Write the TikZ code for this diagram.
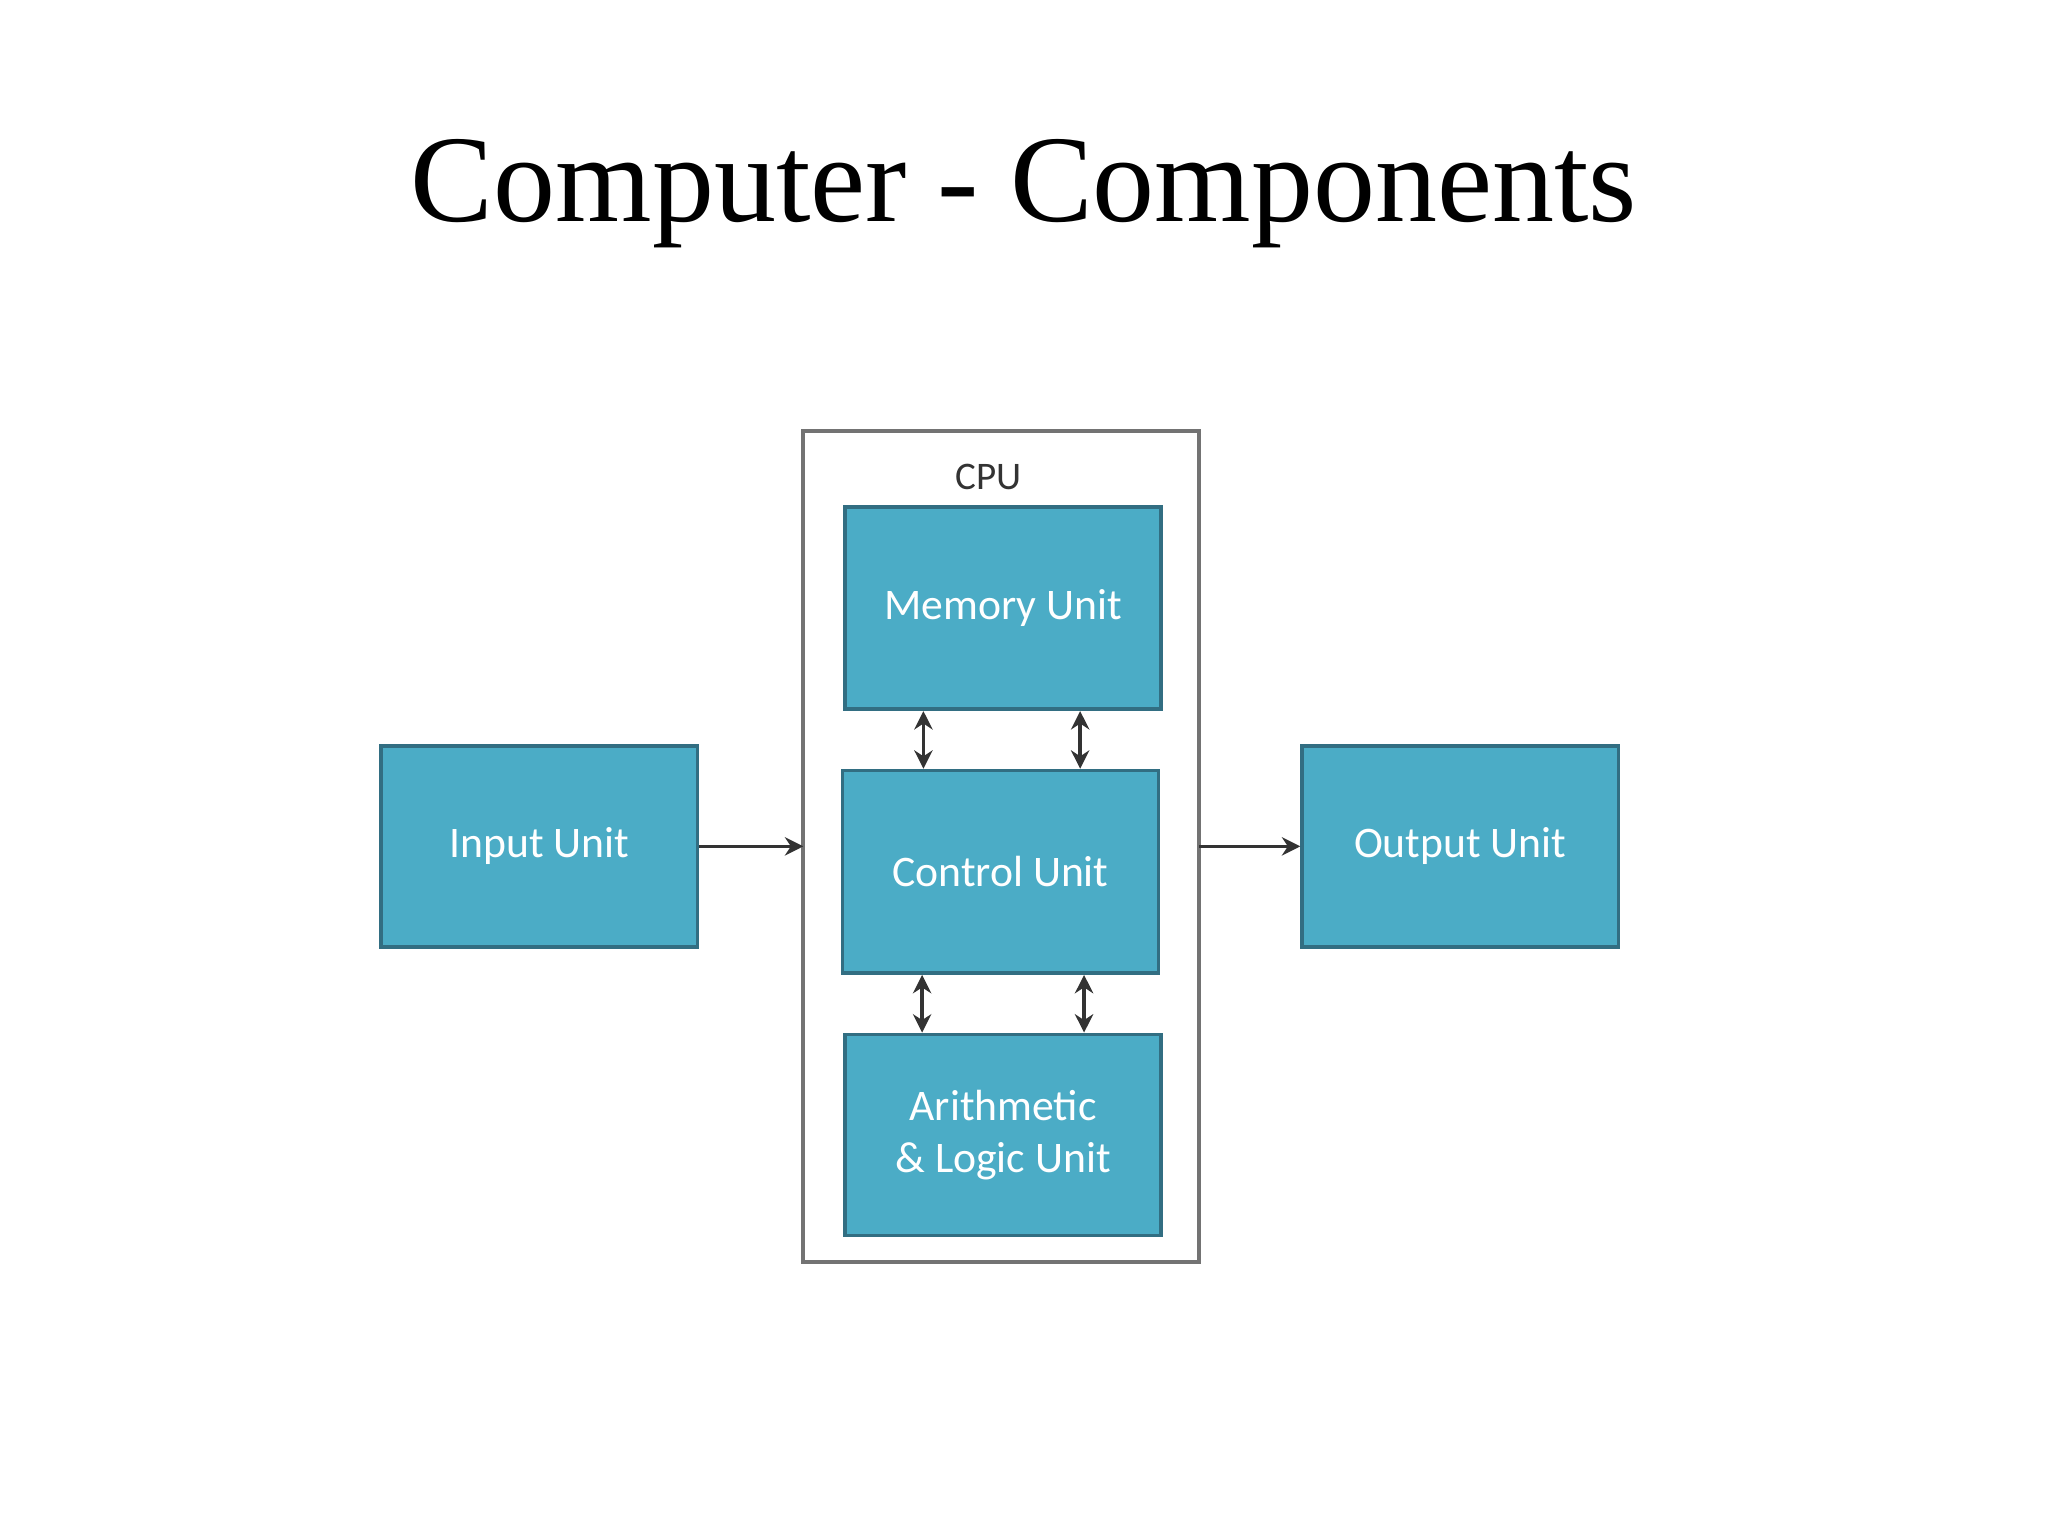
\documentclass[tikz,border=0pt]{standalone}
\usepackage{fontspec}
\setmainfont{Liberation Serif}
\newfontfamily\calfont{Carlito}
\usetikzlibrary{arrows.meta}
\begin{document}
\begin{tikzpicture}[x=0.01cm,y=-0.01cm,
  unit/.style={draw={rgb,255:red,50;green,110;blue,130}, line width=0.8pt, fill={rgb,255:red,75;green,172;blue,198}, text=white, font=\calfont\fontsize{9.5}{11.5}\selectfont, align=center, inner sep=0pt},
  arr/.style={-{Stealth[length=4pt,width=4pt]}, line width=0.8pt, black!80},
  darr/.style={{Stealth[length=4pt,width=4pt]}-{Stealth[length=4pt,width=4pt]}, line width=0.8pt, black!80}]
\useasboundingbox (0,0) rectangle (1568,1176);
\node (title) at (784,148) {\fontsize{27}{30}\selectfont Computer - Components};
\path[draw=black!55, line width=0.9pt] (615,330) rectangle (918,966);
\coordinate (cpuL) at (615,648);
\coordinate (cpuR) at (918,648);
\node[font=\calfont\fontsize{8.5}{10}\selectfont, text=black!80] (cpulabel) at (757,365) {CPU};
\node[unit, minimum width=2.42cm, minimum height=1.55cm] (mem) at (768,465.5) {Memory Unit};
\node[unit, minimum width=2.42cm, minimum height=1.55cm] (ctl) at (766,667.5) {Control Unit};
\node[unit, minimum width=2.42cm, minimum height=1.54cm] (alu) at (768,869) {Arithmetic\\\& Logic Unit};
\node[unit, minimum width=2.42cm, minimum height=1.54cm] (in) at (413,648) {Input Unit};
\node[unit, minimum width=2.42cm, minimum height=1.54cm] (out) at (1118,648) {Output Unit};
\draw[arr] (in.east) -- (cpuL);
\draw[arr] (cpuR) -- (out.west);
\draw[darr] (mem.south -| 707,0) -- (ctl.north -| 707,0);
\draw[darr] (mem.south -| 827,0) -- (ctl.north -| 827,0);
\draw[darr] (ctl.south -| 706,0) -- (alu.north -| 706,0);
\draw[darr] (ctl.south -| 830,0) -- (alu.north -| 830,0);
\end{tikzpicture}
\end{document}
